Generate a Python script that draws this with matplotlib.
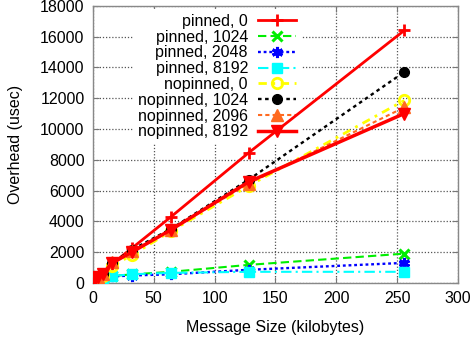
import numpy as np
import matplotlib
matplotlib.use('Agg')
import matplotlib.pyplot as plt

plt.rcParams['font.family'] = ['Liberation Sans', 'DejaVu Sans']

# message sizes in kilobytes
sizes = [1, 2, 4, 8, 16, 32, 64, 128, 256]

# overhead in usec
pinned_0 = [250, 290, 360, 520, 1250, 2250, 4280, 8450, 16400]
pinned_1024 = [220, 250, 290, 330, 450, 550, 720, 1170, 1900]
pinned_2048 = [210, 240, 280, 320, 420, 480, 560, 850, 1300]
pinned_8192 = [200, 230, 270, 310, 450, 560, 650, 720, 720]
nopinned_0 = [230, 260, 320, 450, 1100, 1800, 3350, 6300, 11850]
nopinned_1024 = [260, 300, 380, 560, 1300, 2150, 3500, 6700, 13700]
nopinned_2096 = [250, 290, 370, 550, 1350, 2050, 3450, 6450, 11400]
nopinned_8192 = [240, 280, 360, 600, 1300, 2000, 3440, 6560, 11000]

labels = ['pinned, 0', 'pinned, 1024', 'pinned, 2048', 'pinned, 8192',
          'nopinned, 0', 'nopinned, 1024', 'nopinned, 2096', 'nopinned, 8192']
series = [pinned_0, pinned_1024, pinned_2048, pinned_8192,
          nopinned_0, nopinned_1024, nopinned_2096, nopinned_8192]

styles = [
    dict(color='#ff0000', ls='-', lw=2.0, marker='+', ms=8, mew=2.0),
    dict(color='#00ee00', ls=(0, (4, 2)), lw=1.5, marker='x', ms=6.5, mew=2.2),
    dict(color='#0000ff', ls=(0, (1.2, 1.2)), lw=1.7, marker=(6, 2, 0), ms=8, mew=2.2),
    dict(color='#00ffff', ls=(0, (5, 2, 1, 2)), lw=1.5, marker='s', ms=7),
    dict(color='#ffff00', ls=(0, (3, 2, 1, 2)), lw=2.0, marker='o', ms=7.5, mew=2.0, mfc='none'),
    dict(color='#000000', ls=(0, (1.5, 1.5)), lw=1.7, marker='o', ms=7),
    dict(color='#ff6a20', ls=(0, (2, 1.5)), lw=1.5, marker='^', ms=8),
    dict(color='#ff0000', ls='-', lw=2.5, marker='v', ms=8),
]

fig = plt.figure(figsize=(4.74, 3.59), dpi=100)
ax = fig.add_axes([0.196, 0.212, 0.770, 0.772])
ax.set_axisbelow(True)

for vals, lab, st in zip(series, labels, styles):
    ax.plot(sizes, vals, label=lab, zorder=3, **st)

ax.set_xlim(0, 300)
ax.set_ylim(0, 18000)
ax.set_xticks(np.arange(0, 301, 50))
ax.set_yticks(np.arange(0, 18001, 2000))
ax.grid(True, color='#555555', ls=(0, (1, 1.5)), lw=0.9)
ax.tick_params(direction='in', length=4, top=True, right=True, labelsize=11.5,
               color='#777777', pad=6)
for sp in ax.spines.values():
    sp.set_color('#888888')
    sp.set_linewidth(1.0)

ax.set_xlabel('Message Size (kilobytes)', fontsize=11.5, labelpad=10)
ax.set_ylabel('Overhead (usec)', fontsize=11.5, labelpad=12)

leg = ax.legend(loc='upper right', bbox_to_anchor=(0.578, 1.0), markerfirst=False,
                frameon=True, fontsize=11.5,
                handlelength=2.4, labelspacing=0.05, borderaxespad=0.2,
                handletextpad=0.6, borderpad=0.3)
leg.get_frame().set_edgecolor('none')
leg.get_frame().set_facecolor('white')
leg.get_frame().set_alpha(1.0)
leg.set_zorder(2)
# right-align labels like gnuplot keys
for col in leg._legend_handle_box.get_children():
    col.align = 'right'

fig.savefig('out.png', dpi=100)
